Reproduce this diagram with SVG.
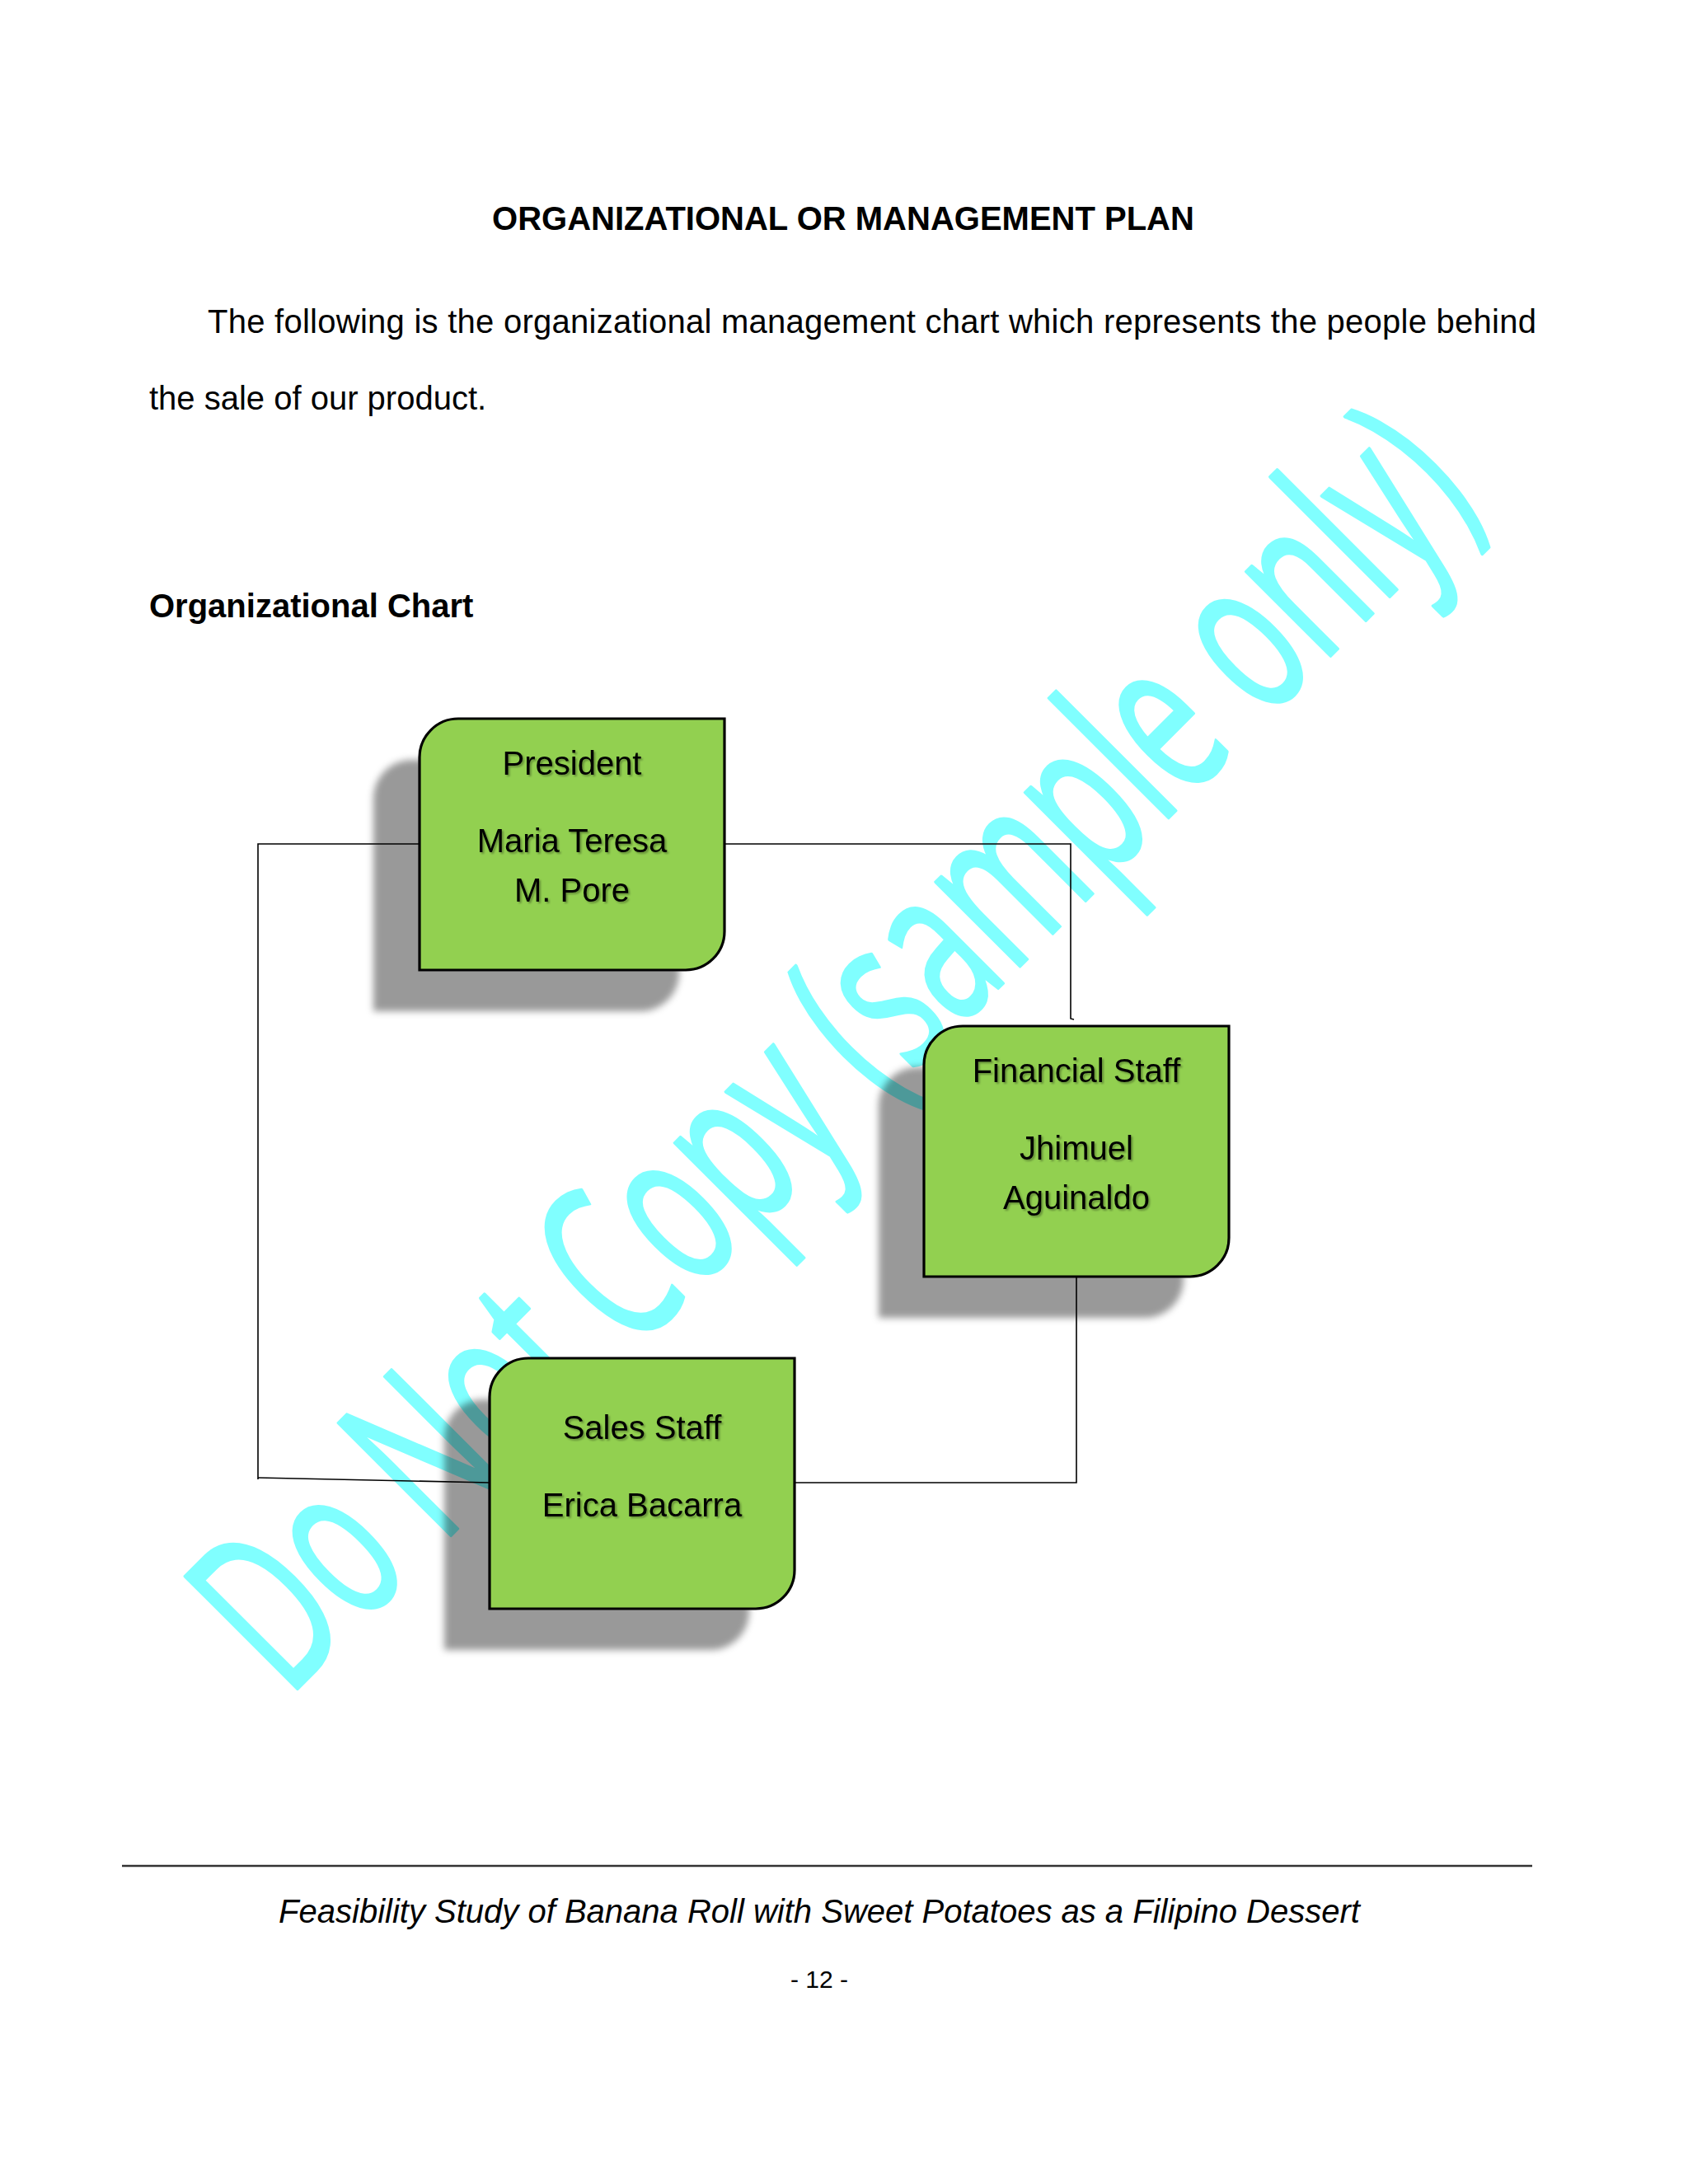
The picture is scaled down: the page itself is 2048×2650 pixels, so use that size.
<svg xmlns="http://www.w3.org/2000/svg" width="2048" height="2650" viewBox="0 0 2048 2650">
<defs>
<style>
.doc{font-family:"Liberation Sans",Arial,sans-serif;font-size:40px;fill:#000}
.b{font-weight:bold}
.it{font-style:italic}
.wm{font-family:"Open Sans","Noto Sans",sans-serif;font-size:270px;fill:#80ffff;stroke:#80ffff;stroke-width:4;stroke-linejoin:round}
.conn{fill:none;stroke:#000;stroke-width:1.6}
.box{fill:#92d050;stroke:#000;stroke-width:3.2}
.shadow{fill:#000;fill-opacity:0.4;filter:url(#blur)}
.lbl{font-family:"Liberation Sans",Arial,sans-serif;font-size:40px;fill:#000;text-anchor:middle;filter:url(#tshadow)}
</style>
<filter id="blur" x="-10%" y="-10%" width="120%" height="120%">
<feGaussianBlur stdDeviation="4"/>
</filter>
<filter id="tshadow" x="-10%" y="-30%" width="120%" height="160%">
<feDropShadow dx="2" dy="2" stdDeviation="1.2" flood-color="#000" flood-opacity="0.3"/>
</filter>
</defs>
<rect x="0" y="0" width="2048" height="2650" fill="#ffffff"/>

<g id="page-text">
<text class="doc b" x="1023" y="279" text-anchor="middle">ORGANIZATIONAL OR MANAGEMENT PLAN</text>
<text class="doc" x="252" y="404" textLength="1612" lengthAdjust="spacing">The following is the organizational management chart which represents the people behind</text>
<text class="doc" x="181" y="497">the sale of our product.</text>
<text class="doc b" x="181" y="749">Organizational Chart</text>
</g>

<g id="watermark">
<text class="wm" transform="translate(349,2061) rotate(-45)" x="0" y="0" textLength="2050" lengthAdjust="spacingAndGlyphs">Do Not Copy (sample only)</text>
</g>

<g id="connectors">
<polyline class="conn" points="509,1024 313,1024 313,1795"/>
<line class="conn" x1="313" y1="1793" x2="594" y2="1799"/>
<polyline class="conn" points="879,1024 1299,1024 1299,1236 1303,1237"/>
<polyline class="conn" points="1306,1549 1306,1799 964,1799"/>
</g>

<g id="node-president">
<path class="shadow" d="M453,969 A47,47 0 0 1 500,922 H824 V1180 A47,47 0 0 1 777,1227 H453 Z"/>
<path class="box" d="M509,919 A47,47 0 0 1 556,872 H879 V1130 A47,47 0 0 1 832,1177 H509 Z"/>
<text class="lbl" x="694" y="940">President</text>
<text class="lbl" x="694" y="1034">Maria Teresa</text>
<text class="lbl" x="694" y="1094">M. Pore</text>
</g>

<g id="node-financial">
<path class="shadow" d="M1066,1342 A47,47 0 0 1 1113,1295 H1436 V1552 A47,47 0 0 1 1389,1599 H1066 Z"/>
<path class="box" d="M1121,1292 A47,47 0 0 1 1168,1245 H1491 V1502 A47,47 0 0 1 1444,1549 H1121 Z"/>
<text class="lbl" x="1306" y="1313">Financial Staff</text>
<text class="lbl" x="1306" y="1407">Jhimuel</text>
<text class="lbl" x="1306" y="1467">Aguinaldo</text>
</g>

<g id="node-sales">
<path class="shadow" d="M539,1745 A47,47 0 0 1 586,1698 H909 V1955 A47,47 0 0 1 862,2002 H539 Z"/>
<path class="box" d="M594,1695 A47,47 0 0 1 641,1648 H964 V1905 A47,47 0 0 1 917,1952 H594 Z"/>
<text class="lbl" x="779" y="1746">Sales Staff</text>
<text class="lbl" x="779" y="1840">Erica Bacarra</text>
</g>

<g id="footer">
<line x1="148" y1="2264" x2="1859" y2="2264" stroke="#333" stroke-width="2.5"/>
<text class="doc it" x="994" y="2333" text-anchor="middle">Feasibility Study of Banana Roll with Sweet Potatoes as a Filipino Dessert</text>
<text class="doc" x="994" y="2412" text-anchor="middle" style="font-size:30px">- 12 -</text>
</g>
</svg>
